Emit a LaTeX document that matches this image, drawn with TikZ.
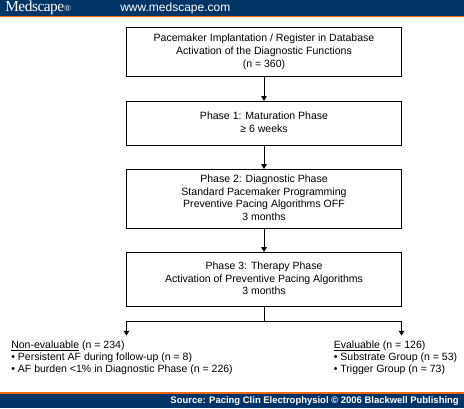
\documentclass[tikz,border=0pt]{standalone}
\usepackage{fontspec}
\setmainfont{Liberation Sans}
\newfontfamily\logofont{Liberation Serif}
\usetikzlibrary{arrows.meta}
\definecolor{navy}{HTML}{003366}
\definecolor{band}{HTML}{F26A0F}
\newcommand{\flowtext}[2]{\raisebox{#1}{\begin{tabular}{@{}c@{}}#2\end{tabular}}}
\newcommand{\headword}[1]{\smash{\underline{\smash{#1}}}}
\tikzset{x=0.75pt,y=-0.75pt,
 flowbox/.style={draw=black,line width=0.75pt,fill=white,minimum width=206.25pt,align=center,inner sep=0pt,font=\fontsize{7.9pt}{9.4pt}\selectfont},
 flowline/.style={draw=black,line width=0.75pt},
 flowarrow/.style={flowline,-{Triangle[length=3.6pt,width=4pt]}},
 lbl/.style={anchor=north west,align=left,inner sep=0pt,font=\fontsize{7.9pt}{9.2pt}\selectfont},
 hdr/.style={text=white,inner sep=0pt}}
\begin{document}
\begin{tikzpicture}
\useasboundingbox (0,0) rectangle (464,408);
\fill[white] (0,0) rectangle (464,408);
\fill[navy] (0,0) rectangle (464,15.5);
\fill[band] (0,15.5) rectangle (464,17.3);
\fill[band] (0,392.3) rectangle (464,394);
\fill[navy] (0,394) rectangle (464,408);
\node[hdr,anchor=west,font=\fontsize{11.5pt}{12pt}\selectfont\logofont] (logo) at (5,8) {\addfontfeature{LetterSpace=-3}Medscape{\fontsize{7pt}{8pt}\selectfont ®}};
\node[hdr,anchor=west,font=\fontsize{9pt}{10pt}\selectfont] (url) at (120,8) {www.medscape.com};
\node[hdr,anchor=east,font=\bfseries\fontsize{7.1pt}{8pt}\selectfont] (src) at (459,401) {Source: Pacing Clin Electrophysiol © 2006 Blackwell Publishing};
\node[flowbox,minimum height=36.75pt] (b1) at (264,52) {\flowtext{2.2pt}{Pacemaker Implantation / Register in Database\\Activation of the Diagnostic Functions\\(n = 360)}};
\node[flowbox,minimum height=33pt] (b2) at (264,123.5) {\flowtext{1.1pt}{Phase 1: Maturation Phase\\≥ 6 weeks}};
\node[flowbox,minimum height=44.25pt] (b3) at (264,199) {\flowtext{1.5pt}{Phase 2: Diagnostic Phase\\Standard Pacemaker Programming\\Preventive Pacing Algorithms OFF\\3 months}};
\node[flowbox,minimum height=40.5pt] (b4) at (264,279.5) {\flowtext{-1.1pt}{Phase 3: Therapy Phase\\Activation of Preventive Pacing Algorithms\\3 months}};
\begin{scope}[xshift=0.375pt]
\draw[flowarrow] (b1) -- (b2);
\draw[flowarrow] (b2) -- (b3);
\draw[flowarrow] (b3) -- (b4);
\end{scope}
\coordinate (j) at (264.5,321.5);
\coordinate (jl) at (126.5,321.5);
\coordinate (jr) at (401.5,321.5);
\coordinate (el) at (126.5,335.7);
\coordinate (er) at (401.5,335.7);
\node[lbl] (left) at (11,340.5) {\headword{Non-evaluable} (n = 234)\\• Persistent AF during follow-up (n = 8)\\• AF burden <1\% in Diagnostic Phase (n = 226)};
\node[lbl] (right) at (333.5,340.5) {\headword{Evaluable} (n = 126)\\• Substrate Group (n = 53)\\• Trigger Group (n = 73)};
\draw[flowline] (b4.south -| j) -- (j);
\draw[flowarrow] (j) -- (jl) -- (el);
\draw[flowarrow] (j) -- (jr) -- (er);
\end{tikzpicture}
\end{document}
